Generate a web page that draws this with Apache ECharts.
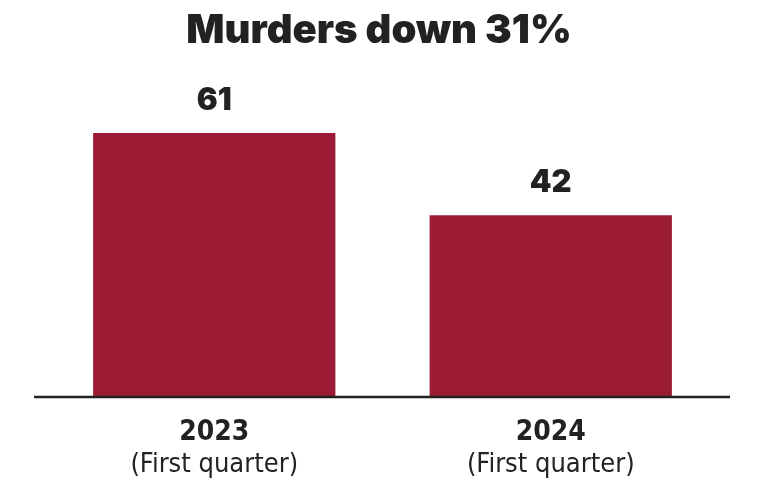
<!DOCTYPE html>
<html><head><meta charset="utf-8">
<script src="https://cdn.jsdelivr.net/npm/echarts@6/dist/echarts.min.js"></script>
<style>html,body{margin:0;padding:0;background:#fff}#c{width:758px;height:500px}</style>
</head><body><div id="c"></div>
<script>
const title = 'Murders down 31%';
const years = ['2023', '2024'];
const periods = ['(First quarter)', '(First quarter)'];
const murders = [61, 42];

const cond = '"DejaVu Sans Condensed", "Liberation Sans Narrow", Roboto, sans-serif';
const chart = echarts.init(document.getElementById('c'));
chart.setOption({
  animation: false,
  backgroundColor: '#fff',
  title: {
    text: title, left: 'center', top: 6,
    textStyle: {fontFamily: 'Inter', fontWeight: 900, fontSize: 40, color: '#222'}
  },
  grid: {left: 46, right: 39, top: 94, bottom: 103},
  xAxis: {
    type: 'category',
    data: years.map((y, i) => y + '\n' + periods[i]),
    axisLine: {show: false},
    axisTick: {show: false},
    axisLabel: {
      margin: 20,
      formatter: v => { const p = v.split('\n'); return '{y|' + p[0] + '}\n{q|' + p[1] + '}'; },
      rich: {
        y: {fontFamily: cond, fontWeight: 'bold', fontSize: 28, lineHeight: 32, color: '#222'},
        q: {fontFamily: cond, fontSize: 27, lineHeight: 32, color: '#222'}
      }
    }
  },
  yAxis: {type: 'value', min: 0, max: 70, show: false, splitLine: {show: false}},
  series: [{
    type: 'bar', data: murders, barWidth: '72%',
    itemStyle: {color: '#9b1b34'},
    label: {show: true, position: 'top', distance: 17,
      fontFamily: 'Inter', fontWeight: 900, fontSize: 31, color: '#222'}
  }],
  graphic: [{type: 'line', shape: {x1: 34, y1: 397, x2: 730, y2: 397},
    style: {stroke: '#222', lineWidth: 2.5}, z: 10}]
});
</script></body></html>
